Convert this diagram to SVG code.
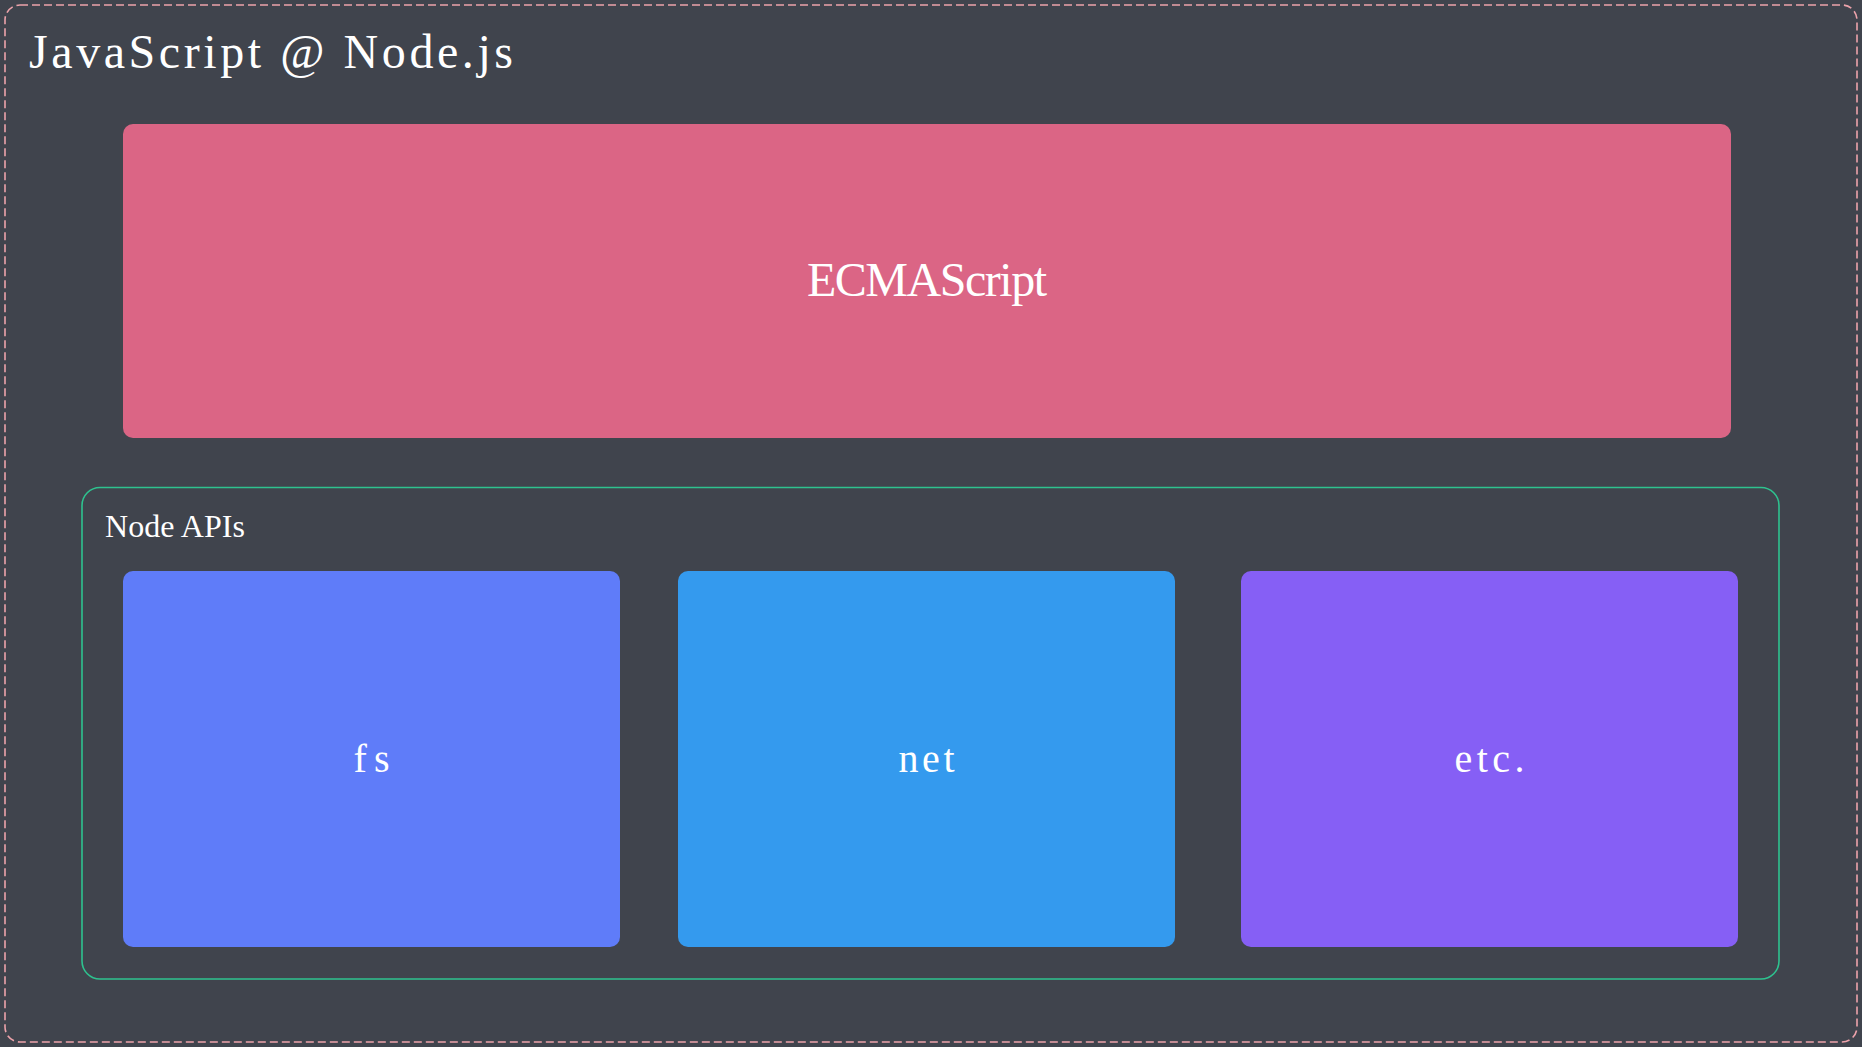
<svg xmlns="http://www.w3.org/2000/svg" width="1862" height="1047" viewBox="0 0 1862 1047">
  <style>
    .lbl { font-family: "Liberation Serif", "Times New Roman", serif; fill: #ffffff; }
    .box { stroke: none; }
  </style>
  <rect x="0" y="0" width="1862" height="1047" fill="#40444d"/>
  <g id="frame">
    <rect x="5" y="5" width="1852" height="1037" rx="15" ry="15" fill="none" stroke="#eda3ab" stroke-width="1.6" stroke-dasharray="8 4"/>
    <text class="lbl" x="29" y="68" font-size="48" textLength="484" lengthAdjust="spacing" fill="#f5f5f5">JavaScript @ Node.js</text>
  </g>
  <g id="ecmascript">
    <rect class="box" x="123" y="124" width="1608" height="314" rx="10" ry="10" fill="#db6585"/>
    <text class="lbl" x="927" y="296" font-size="48" text-anchor="middle" textLength="240" lengthAdjust="spacing">ECMAScript</text>
  </g>
  <g id="node-apis">
    <rect x="82" y="487.5" width="1697" height="491.5" rx="18" ry="18" fill="none" stroke="#2ec28f" stroke-width="1.6"/>
    <text class="lbl" x="105" y="537" font-size="32" textLength="140" lengthAdjust="spacing" fill="#efe6cf">Node APIs</text>
  </g>
  <g id="fs">
    <rect class="box" x="123" y="571" width="497" height="376" rx="10" ry="10" fill="#5f7cf9"/>
    <text class="lbl" x="371.5" y="772" font-size="40" text-anchor="middle" textLength="36" lengthAdjust="spacing">fs</text>
  </g>
  <g id="net">
    <rect class="box" x="678" y="571" width="497" height="376" rx="10" ry="10" fill="#349aee"/>
    <text class="lbl" x="926.5" y="772" font-size="40" text-anchor="middle" textLength="56" lengthAdjust="spacing">net</text>
  </g>
  <g id="etc">
    <rect class="box" x="1241" y="571" width="497" height="376" rx="10" ry="10" fill="#865ff5"/>
    <text class="lbl" x="1489.5" y="772" font-size="40" text-anchor="middle" textLength="70" lengthAdjust="spacing">etc.</text>
  </g>
  <g id="connectors"/>
</svg>
